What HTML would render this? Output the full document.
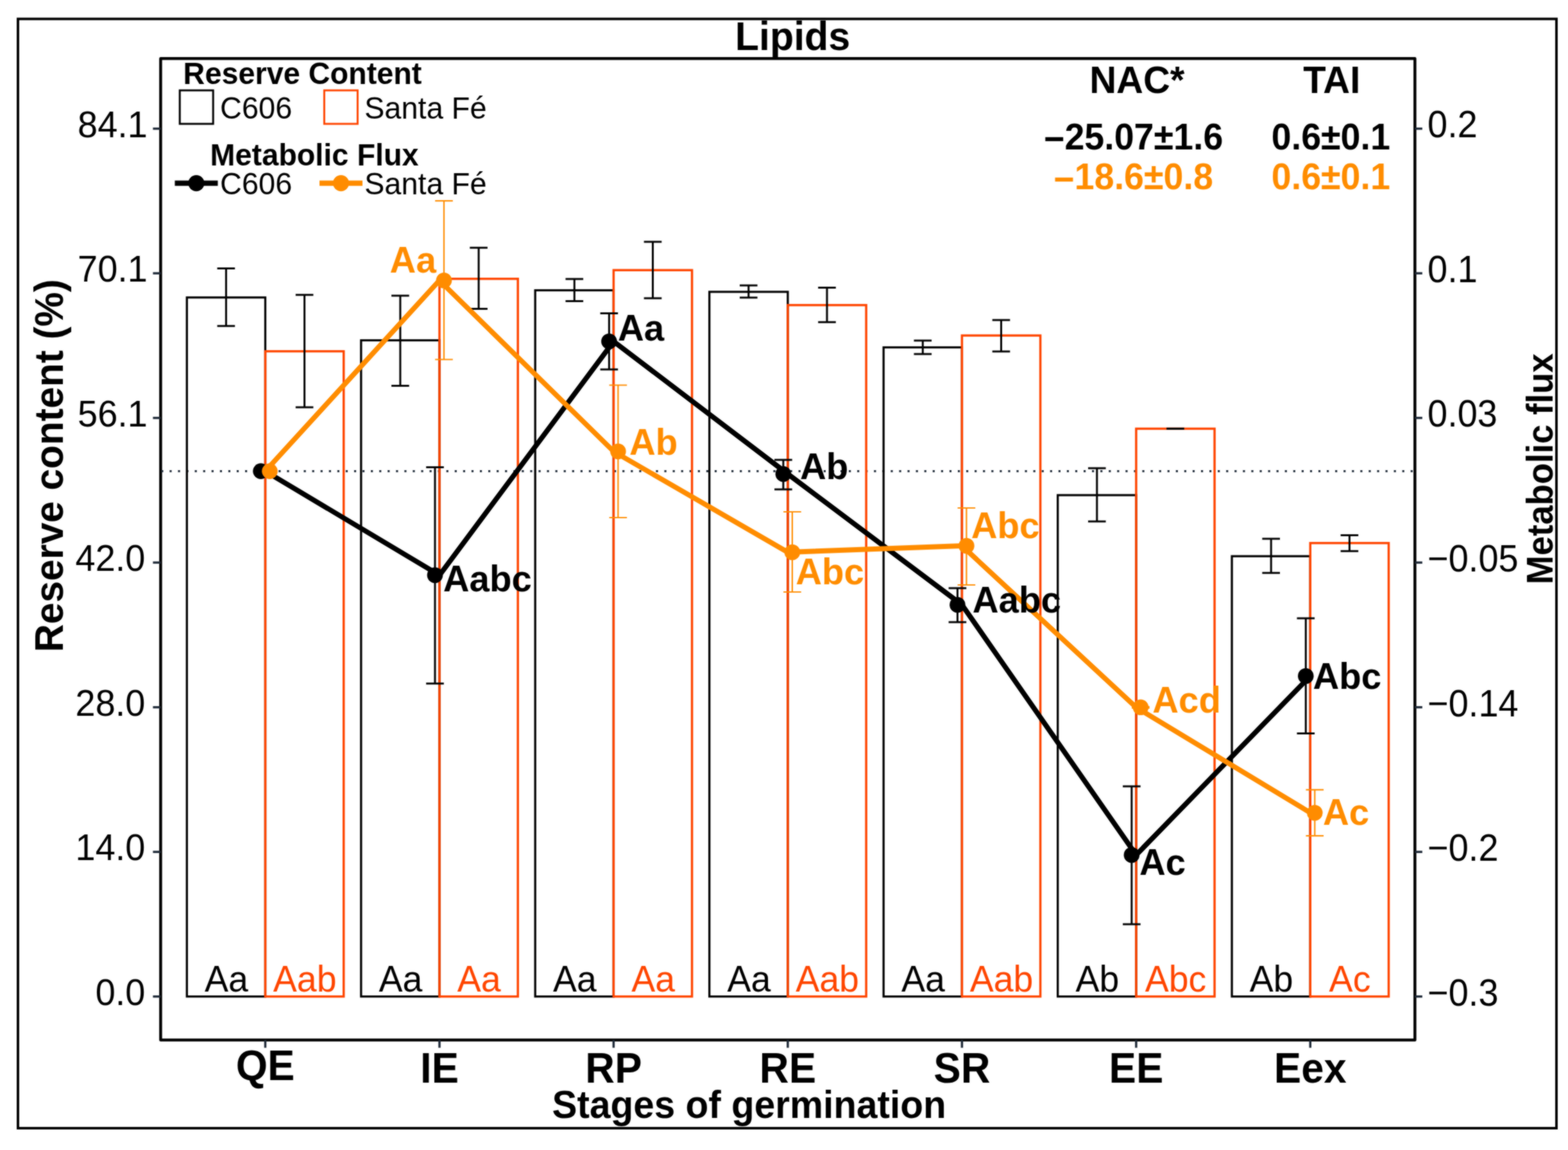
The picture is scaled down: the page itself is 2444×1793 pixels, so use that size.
<!DOCTYPE html>
<html lang="en"><head><meta charset="utf-8"><title>Lipids</title>
<style>html,body{margin:0;padding:0;background:#fff;}svg{display:block;}</style></head>
<body>
<svg width="2444" height="1793" viewBox="0 0 2444 1793" font-family="'Liberation Sans', Arial, Helvetica, sans-serif">
<defs><filter id="soft" x="0" y="0" width="100%" height="100%" filterUnits="userSpaceOnUse" color-interpolation-filters="sRGB"><feGaussianBlur in="SourceGraphic" stdDeviation="0.9" result="b"/><feComposite in="SourceGraphic" in2="b" operator="arithmetic" k1="0" k2="0.4" k3="0.6" k4="0"/></filter></defs>
<rect x="0" y="0" width="2444" height="1793" fill="#fff"/>
<g filter="url(#soft)">
<rect x="-5" y="-5" width="2454" height="1803" fill="#fff"/>
<rect x="28.0" y="29.5" width="2398.0" height="1729.5" fill="none" stroke="#000" stroke-width="3.9"/>
<text transform="translate(1235.5 77.6) scale(1 1.03)" font-size="61" font-weight="700" text-anchor="middle">Lipids</text>
<rect x="250.4" y="91.2" width="1955.0" height="1530.4" fill="none" stroke="#000" stroke-width="4.5" stroke-linejoin="round"/>
<line x1="251.3" x2="2205.4" y1="734.6" y2="734.6" stroke="#1f2a38" stroke-width="3.2" stroke-dasharray="3.2 9.87"/>
<rect x="291.3" y="463.8" width="122.2" height="1089.9" fill="none" stroke="#000" stroke-width="3.3"/>
<rect x="562.8" y="530.6" width="122.2" height="1023.1" fill="none" stroke="#000" stroke-width="3.3"/>
<rect x="834.2" y="452.6" width="122.2" height="1101.1" fill="none" stroke="#000" stroke-width="3.3"/>
<rect x="1105.7" y="455" width="122.2" height="1098.7" fill="none" stroke="#000" stroke-width="3.3"/>
<rect x="1377.2" y="541.6" width="122.2" height="1012.1" fill="none" stroke="#000" stroke-width="3.3"/>
<rect x="1648.7" y="772" width="122.2" height="781.7" fill="none" stroke="#000" stroke-width="3.3"/>
<rect x="1920.1" y="867.2" width="122.2" height="686.5" fill="none" stroke="#000" stroke-width="3.3"/>
<rect x="413.5" y="547.7" width="122.2" height="1006.0" fill="none" stroke="#FF4500" stroke-width="3.5"/>
<rect x="685.0" y="434.7" width="122.2" height="1119.0" fill="none" stroke="#FF4500" stroke-width="3.5"/>
<rect x="956.4" y="421.2" width="122.2" height="1132.5" fill="none" stroke="#FF4500" stroke-width="3.5"/>
<rect x="1227.9" y="475.7" width="122.2" height="1078.0" fill="none" stroke="#FF4500" stroke-width="3.5"/>
<rect x="1499.4" y="523.1" width="122.2" height="1030.6" fill="none" stroke="#FF4500" stroke-width="3.5"/>
<rect x="1770.9" y="668.4" width="122.2" height="885.3" fill="none" stroke="#FF4500" stroke-width="3.5"/>
<rect x="2042.3" y="846.7" width="122.2" height="707.0" fill="none" stroke="#FF4500" stroke-width="3.5"/>
<path d="M338.6 418.4H366.2M338.6 508.2H366.2M352.4 418.4V508.2" fill="none" stroke="#000" stroke-width="3"/>
<path d="M460.8 459.8H488.4M460.8 634.9H488.4M474.6 459.8V634.9" fill="none" stroke="#000" stroke-width="3"/>
<path d="M610.1 461.1H637.7M610.1 601.4H637.7M623.9 461.1V601.4" fill="none" stroke="#000" stroke-width="3"/>
<path d="M732.3 386.2H759.9M732.3 481.5H759.9M746.1 386.2V481.5" fill="none" stroke="#000" stroke-width="3"/>
<path d="M881.5 435H909.1M881.5 469.5H909.1M895.3 435V469.5" fill="none" stroke="#000" stroke-width="3"/>
<path d="M1003.7 377H1031.3M1003.7 464.9H1031.3M1017.5 377V464.9" fill="none" stroke="#000" stroke-width="3"/>
<path d="M1153.0 445H1180.6M1153.0 464H1180.6M1166.8 445V464" fill="none" stroke="#000" stroke-width="3"/>
<path d="M1275.2 448.5H1302.8M1275.2 502.2H1302.8M1289.0 448.5V502.2" fill="none" stroke="#000" stroke-width="3"/>
<path d="M1424.5 531H1452.1M1424.5 552H1452.1M1438.3 531V552" fill="none" stroke="#000" stroke-width="3"/>
<path d="M1546.7 499H1574.3M1546.7 548H1574.3M1560.5 499V548" fill="none" stroke="#000" stroke-width="3"/>
<path d="M1696.0 730H1723.6M1696.0 813H1723.6M1709.8 730V813" fill="none" stroke="#000" stroke-width="3"/>
<path d="M1818.2 668.2H1845.8M1818.2 668.6H1845.8M1832.0 668.2V668.6" fill="none" stroke="#000" stroke-width="3"/>
<path d="M1967.4 840H1995.0M1967.4 893.3H1995.0M1981.2 840V893.3" fill="none" stroke="#000" stroke-width="3"/>
<path d="M2089.6 834.5H2117.2M2089.6 859.3H2117.2M2103.4 834.5V859.3" fill="none" stroke="#000" stroke-width="3"/>
<text transform="translate(353.0 1545.8) scale(1 1.03)" font-size="55.5" text-anchor="middle">Aa</text>
<text transform="translate(475.2 1545.8) scale(1 1.03)" font-size="55.5" text-anchor="middle" fill="#FF4500">Aab</text>
<text transform="translate(624.5 1545.8) scale(1 1.03)" font-size="55.5" text-anchor="middle">Aa</text>
<text transform="translate(746.7 1545.8) scale(1 1.03)" font-size="55.5" text-anchor="middle" fill="#FF4500">Aa</text>
<text transform="translate(895.9 1545.8) scale(1 1.03)" font-size="55.5" text-anchor="middle">Aa</text>
<text transform="translate(1018.1 1545.8) scale(1 1.03)" font-size="55.5" text-anchor="middle" fill="#FF4500">Aa</text>
<text transform="translate(1167.4 1545.8) scale(1 1.03)" font-size="55.5" text-anchor="middle">Aa</text>
<text transform="translate(1289.6 1545.8) scale(1 1.03)" font-size="55.5" text-anchor="middle" fill="#FF4500">Aab</text>
<text transform="translate(1438.9 1545.8) scale(1 1.03)" font-size="55.5" text-anchor="middle">Aa</text>
<text transform="translate(1561.1 1545.8) scale(1 1.03)" font-size="55.5" text-anchor="middle" fill="#FF4500">Aab</text>
<text transform="translate(1710.4 1545.8) scale(1 1.03)" font-size="55.5" text-anchor="middle">Ab</text>
<text transform="translate(1832.5 1545.8) scale(1 1.03)" font-size="55.5" text-anchor="middle" fill="#FF4500">Abc</text>
<text transform="translate(1981.8 1545.8) scale(1 1.03)" font-size="55.5" text-anchor="middle">Ab</text>
<text transform="translate(2104.0 1545.8) scale(1 1.03)" font-size="55.5" text-anchor="middle" fill="#FF4500">Ac</text>
<path d="M664.2 728.6H691.8M664.2 1065.8H691.8M678.0 728.6V1065.8" fill="none" stroke="#000" stroke-width="3"/>
<path d="M935.6 488.5H963.2M935.6 576H963.2M949.4 488.5V576" fill="none" stroke="#000" stroke-width="3"/>
<path d="M1207.1 717H1234.7M1207.1 763H1234.7M1220.9 717V763" fill="none" stroke="#000" stroke-width="3"/>
<path d="M1478.6 917H1506.2M1478.6 970H1506.2M1492.4 917V970" fill="none" stroke="#000" stroke-width="3"/>
<path d="M1750.1 1226H1777.7M1750.1 1441H1777.7M1763.9 1226V1441" fill="none" stroke="#000" stroke-width="3"/>
<path d="M2021.5 964H2049.1M2021.5 1143.5H2049.1M2035.3 964V1143.5" fill="none" stroke="#000" stroke-width="3"/>
<path d="M678.2 313.2H705.8M678.2 560.5H705.8M692.0 313.2V560.5" fill="none" stroke="#FF8C00" stroke-width="2.2"/>
<path d="M949.6 600.5H977.2M949.6 807H977.2M963.4 600.5V807" fill="none" stroke="#FF8C00" stroke-width="2.2"/>
<path d="M1221.1 798H1248.7M1221.1 923H1248.7M1234.9 798V923" fill="none" stroke="#FF8C00" stroke-width="2.2"/>
<path d="M1492.6 792H1520.2M1492.6 912H1520.2M1506.4 792V912" fill="none" stroke="#FF8C00" stroke-width="2.2"/>
<path d="M1764.1 1101.8H1791.7M1764.1 1103.8H1791.7M1777.9 1101.8V1103.8" fill="none" stroke="#FF8C00" stroke-width="2.2"/>
<path d="M2035.5 1231.4H2063.1M2035.5 1303.2H2063.1M2049.3 1231.4V1303.2" fill="none" stroke="#FF8C00" stroke-width="2.2"/>
<polyline points="413.5,734.6 685.0,896.8 956.4,532.3 1227.9,739.0 1499.4,943.0 1770.9,1333.0 2042.3,1054.0" fill="none" stroke="#000" stroke-width="7.9" stroke-linejoin="round"/>
<circle cx="406.5" cy="734.6" r="12.3"/>
<circle cx="678.0" cy="896.8" r="12.3"/>
<circle cx="949.4" cy="532.3" r="12.3"/>
<circle cx="1220.9" cy="739" r="12.3"/>
<circle cx="1492.4" cy="943" r="12.3"/>
<circle cx="1763.9" cy="1333" r="12.3"/>
<circle cx="2035.3" cy="1054" r="12.3"/>
<polyline points="413.5,734.6 685.0,437.2 956.4,703.8 1227.9,861.0 1499.4,851.0 1770.9,1102.8 2042.3,1267.2" fill="none" stroke="#FF8C00" stroke-width="7.9" stroke-linejoin="round"/>
<circle cx="420.5" cy="734.6" r="12.3" fill="#FF8C00"/>
<circle cx="692.0" cy="437.2" r="12.3" fill="#FF8C00"/>
<circle cx="963.4" cy="703.8" r="12.3" fill="#FF8C00"/>
<circle cx="1234.9" cy="861" r="12.3" fill="#FF8C00"/>
<circle cx="1506.4" cy="851" r="12.3" fill="#FF8C00"/>
<circle cx="1777.9" cy="1102.8" r="12.3" fill="#FF8C00"/>
<circle cx="2049.3" cy="1267.2" r="12.3" fill="#FF8C00"/>
<text transform="translate(690.8 922.0) scale(1 1.03)" font-size="56.5" font-weight="700">Aabc</text>
<text transform="translate(963.0 531.4) scale(1 1.03)" font-size="56.5" font-weight="700">Aa</text>
<text transform="translate(1247.0 746.5) scale(1 1.03)" font-size="56.5" font-weight="700">Ab</text>
<text transform="translate(1515.7 955.0) scale(1 1.03)" font-size="56.5" font-weight="700">Aabc</text>
<text transform="translate(1776.0 1364.0) scale(1 1.03)" font-size="56.5" font-weight="700">Ac</text>
<text transform="translate(2046.5 1074.0) scale(1 1.03)" font-size="56.5" font-weight="700">Abc</text>
<text transform="translate(607.6 425.2) scale(1 1.03)" font-size="56.5" font-weight="700" fill="#FF8C00">Aa</text>
<text transform="translate(981.0 708.7) scale(1 1.03)" font-size="56.5" font-weight="700" fill="#FF8C00">Ab</text>
<text transform="translate(1240.3 911.0) scale(1 1.03)" font-size="56.5" font-weight="700" fill="#FF8C00">Abc</text>
<text transform="translate(1513.8 839.0) scale(1 1.03)" font-size="56.5" font-weight="700" fill="#FF8C00">Abc</text>
<text transform="translate(1796.2 1110.6) scale(1 1.03)" font-size="56.5" font-weight="700" fill="#FF8C00">Acd</text>
<text transform="translate(2062.0 1285.8) scale(1 1.03)" font-size="56.5" font-weight="700" fill="#FF8C00">Ac</text>
<line x1="238.4" x2="250.4" y1="1553.7" y2="1553.7" stroke="#1f2a38" stroke-width="3.5"/>
<text transform="translate(226.5 1566.7) scale(1 1.035)" font-size="56" text-anchor="end">0.0</text>
<line x1="2205.4" x2="2216.9" y1="1553.7" y2="1553.7" stroke="#1f2a38" stroke-width="3.5"/>
<text transform="translate(2225.0 1567.5) scale(1 1.05)" font-size="56">−0.3</text>
<line x1="238.4" x2="250.4" y1="1328.2" y2="1328.2" stroke="#1f2a38" stroke-width="3.5"/>
<text transform="translate(226.5 1341.2) scale(1 1.035)" font-size="56" text-anchor="end">14.0</text>
<line x1="2205.4" x2="2216.9" y1="1328.2" y2="1328.2" stroke="#1f2a38" stroke-width="3.5"/>
<text transform="translate(2225.0 1342.0) scale(1 1.05)" font-size="56">−0.2</text>
<line x1="238.4" x2="250.4" y1="1102.7" y2="1102.7" stroke="#1f2a38" stroke-width="3.5"/>
<text transform="translate(226.5 1115.7) scale(1 1.035)" font-size="56" text-anchor="end">28.0</text>
<line x1="2205.4" x2="2216.9" y1="1102.7" y2="1102.7" stroke="#1f2a38" stroke-width="3.5"/>
<text transform="translate(2225.0 1116.5) scale(1 1.05)" font-size="56">−0.14</text>
<line x1="238.4" x2="250.4" y1="877.1" y2="877.1" stroke="#1f2a38" stroke-width="3.5"/>
<text transform="translate(226.5 890.1) scale(1 1.035)" font-size="56" text-anchor="end">42.0</text>
<line x1="2205.4" x2="2216.9" y1="877.1" y2="877.1" stroke="#1f2a38" stroke-width="3.5"/>
<text transform="translate(2225.0 890.9) scale(1 1.05)" font-size="56">−0.05</text>
<line x1="238.4" x2="250.4" y1="651.6" y2="651.6" stroke="#1f2a38" stroke-width="3.5"/>
<text transform="translate(230.0 664.6) scale(1 1.035)" font-size="56" text-anchor="end">56.1</text>
<line x1="2205.4" x2="2216.9" y1="651.6" y2="651.6" stroke="#1f2a38" stroke-width="3.5"/>
<text transform="translate(2225.0 665.4) scale(1 1.05)" font-size="56">0.03</text>
<line x1="238.4" x2="250.4" y1="426.1" y2="426.1" stroke="#1f2a38" stroke-width="3.5"/>
<text transform="translate(230.0 439.1) scale(1 1.035)" font-size="56" text-anchor="end">70.1</text>
<line x1="2205.4" x2="2216.9" y1="426.1" y2="426.1" stroke="#1f2a38" stroke-width="3.5"/>
<text transform="translate(2225.0 439.9) scale(1 1.05)" font-size="56">0.1</text>
<line x1="238.4" x2="250.4" y1="200.6" y2="200.6" stroke="#1f2a38" stroke-width="3.5"/>
<text transform="translate(230.0 213.6) scale(1 1.035)" font-size="56" text-anchor="end">84.1</text>
<line x1="2205.4" x2="2216.9" y1="200.6" y2="200.6" stroke="#1f2a38" stroke-width="3.5"/>
<text transform="translate(2225.0 214.4) scale(1 1.05)" font-size="56">0.2</text>
<line x1="413.5" x2="413.5" y1="1621.6" y2="1633.6" stroke="#1f2a38" stroke-width="3.5"/>
<text transform="translate(413.5 1684.2) scale(1 1.04)" font-size="63.5" font-weight="700" text-anchor="middle">QE</text>
<line x1="685.0" x2="685.0" y1="1621.6" y2="1633.6" stroke="#1f2a38" stroke-width="3.5"/>
<text transform="translate(685.0 1688.3) scale(1 1.04)" font-size="63.5" font-weight="700" text-anchor="middle">IE</text>
<line x1="956.4" x2="956.4" y1="1621.6" y2="1633.6" stroke="#1f2a38" stroke-width="3.5"/>
<text transform="translate(956.4 1688.3) scale(1 1.04)" font-size="63.5" font-weight="700" text-anchor="middle">RP</text>
<line x1="1227.9" x2="1227.9" y1="1621.6" y2="1633.6" stroke="#1f2a38" stroke-width="3.5"/>
<text transform="translate(1227.9 1688.3) scale(1 1.04)" font-size="63.5" font-weight="700" text-anchor="middle">RE</text>
<line x1="1499.4" x2="1499.4" y1="1621.6" y2="1633.6" stroke="#1f2a38" stroke-width="3.5"/>
<text transform="translate(1499.4 1688.3) scale(1 1.04)" font-size="63.5" font-weight="700" text-anchor="middle">SR</text>
<line x1="1770.9" x2="1770.9" y1="1621.6" y2="1633.6" stroke="#1f2a38" stroke-width="3.5"/>
<text transform="translate(1770.9 1688.3) scale(1 1.04)" font-size="63.5" font-weight="700" text-anchor="middle">EE</text>
<line x1="2042.3" x2="2042.3" y1="1621.6" y2="1633.6" stroke="#1f2a38" stroke-width="3.5"/>
<text transform="translate(2042.3 1688.3) scale(1 1.04)" font-size="63.5" font-weight="700" text-anchor="middle">Eex</text>
<text transform="translate(1167.6 1742.6) scale(1 1.05)" font-size="58.5" font-weight="700" text-anchor="middle">Stages of germination</text>
<text transform="translate(98.0 726.0) rotate(-90) scale(1 1.05)" font-size="60.5" font-weight="700" text-anchor="middle">Reserve content (%)</text>
<text transform="translate(2420.0 731.0) rotate(-90) scale(1 1.05)" font-size="54" font-weight="700" text-anchor="middle">Metabolic flux</text>
<text transform="translate(285.6 131.0) scale(1 1.04)" font-size="46.8" font-weight="700">Reserve Content</text>
<rect x="280.2" y="140.9" width="52" height="52.2" fill="#fff" stroke="#000" stroke-width="3"/>
<text transform="translate(343.0 185.2) scale(1 1.035)" font-size="47">C606</text>
<rect x="505.4" y="140.9" width="52" height="52.2" fill="#fff" stroke="#FF4500" stroke-width="3"/>
<text transform="translate(568.0 185.2) scale(1 1.035)" font-size="47">Santa Fé</text>
<text transform="translate(327.6 257.5) scale(1 1.04)" font-size="46.8" font-weight="700">Metabolic Flux</text>
<line x1="272.5" x2="339.5" y1="285.6" y2="285.6" stroke="#000" stroke-width="8.2"/>
<circle cx="306" cy="285.6" r="12.6"/>
<text transform="translate(343.0 303.2) scale(1 1.035)" font-size="47">C606</text>
<line x1="498" x2="565" y1="285.6" y2="285.6" stroke="#FF8C00" stroke-width="8.2"/>
<circle cx="531.5" cy="285.6" r="12.6" fill="#FF8C00"/>
<text transform="translate(568.0 303.2) scale(1 1.035)" font-size="47">Santa Fé</text>
<text transform="translate(1772.3 145.3) scale(1 1.03)" font-size="58" font-weight="700" text-anchor="middle">NAC*</text>
<text transform="translate(2075.7 145.3) scale(1 1.03)" font-size="58" font-weight="700" text-anchor="middle">TAI</text>
<text transform="translate(1766.6 233.2) scale(1 1.03)" font-size="55.6" font-weight="700" text-anchor="middle"><tspan dy="3.2">−</tspan><tspan dy="-3.2">25.07±1.6</tspan></text>
<text transform="translate(2074.3 233.2) scale(1 1.03)" font-size="55.6" font-weight="700" text-anchor="middle">0.6±0.1</text>
<text transform="translate(1766.6 295.3) scale(1 1.03)" font-size="55.6" font-weight="700" text-anchor="middle" fill="#FF8C00"><tspan dy="3.2">−</tspan><tspan dy="-3.2">18.6±0.8</tspan></text>
<text transform="translate(2074.3 295.3) scale(1 1.03)" font-size="55.6" font-weight="700" text-anchor="middle" fill="#FF8C00">0.6±0.1</text>
</g>
</svg>
</body></html>
